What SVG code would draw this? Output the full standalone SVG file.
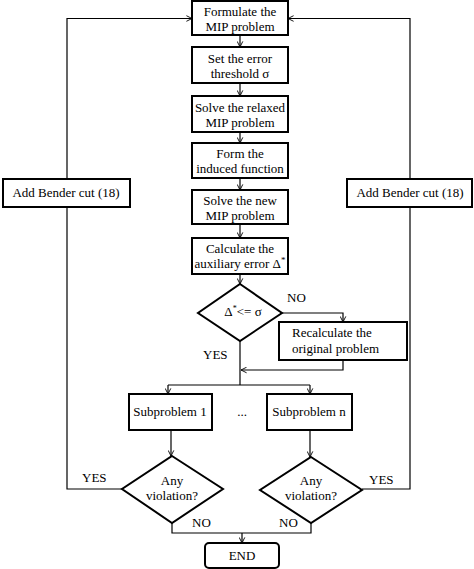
<svg xmlns="http://www.w3.org/2000/svg" width="474" height="569" viewBox="0 0 474 569" font-family="'Liberation Serif', serif">
<defs>
<marker id="arr" viewBox="0 0 10 10" refX="9" refY="5" markerWidth="7" markerHeight="7" orient="auto" markerUnits="userSpaceOnUse">
<path d="M1,1 L9,5 L1,9" fill="none" stroke="#000" stroke-width="1.3"/>
</marker>
<style>
.box{fill:#fff;stroke:#000;stroke-width:2}
.ln{fill:none;stroke:#000;stroke-width:1.2}
.ar{fill:none;stroke:#000;stroke-width:1.2;marker-end:url(#arr)}
text{font-family:'Liberation Serif', serif;font-size:13px;fill:#000}
.c{text-anchor:middle}
</style>
</defs>
<rect width="474" height="569" fill="#fff"/>
<g id="connectors">
<line class="ar" x1="240" y1="35" x2="240" y2="47"/>
<line class="ar" x1="240" y1="83" x2="240" y2="96"/>
<line class="ar" x1="240" y1="132" x2="240" y2="143"/>
<line class="ar" x1="240" y1="178" x2="240" y2="190"/>
<line class="ar" x1="240" y1="224" x2="240" y2="238"/>
<line class="ar" x1="240" y1="274" x2="240" y2="284"/>
<polyline class="ar" points="282,313 343,313 343,322"/>
<polyline class="ar" points="343,360 343,370 241,370"/>
<line class="ln" x1="240" y1="341" x2="240" y2="385"/>
<line class="ln" x1="168" y1="385" x2="310" y2="385"/>
<line class="ar" x1="168" y1="385" x2="168" y2="394"/>
<line class="ar" x1="310" y1="385" x2="310" y2="394"/>
<line class="ar" x1="171" y1="430" x2="171" y2="456"/>
<line class="ar" x1="310" y1="430" x2="310" y2="457"/>
<polyline class="ln" points="172,523 172,533 311,533 311,523"/>
<line class="ar" x1="242" y1="533" x2="242" y2="543"/>
<polyline class="ar" points="122,489 67,489 67,18.5 192,18.5"/>
<polyline class="ar" points="362,489 410,489 410,18.5 288,18.5"/>
</g>
<g id="n1"><rect class="box" x="192" y="1" width="96" height="34"/><text class="c" x="240" y="16">Formulate the</text><text class="c" x="240" y="31">MIP problem</text></g>
<g id="n2"><rect class="box" x="192" y="47" width="96" height="36"/><text class="c" x="240" y="63">Set the error</text><text class="c" x="240" y="78">threshold σ</text></g>
<g id="n3"><rect class="box" x="192" y="96" width="96" height="36"/><text class="c" x="240" y="112">Solve the relaxed</text><text class="c" x="240" y="127">MIP problem</text></g>
<g id="n4"><rect class="box" x="192" y="143" width="96" height="35"/><text class="c" x="240" y="158">Form the</text><text class="c" x="240" y="173">induced function</text></g>
<g id="n5"><rect class="box" x="192" y="190" width="96" height="34"/><text class="c" x="240" y="205">Solve the new</text><text class="c" x="240" y="220">MIP problem</text></g>
<g id="n6"><rect class="box" x="192" y="238" width="96" height="36"/><text class="c" x="240" y="253">Calculate the</text><text class="c" x="240" y="268">auxiliary error Δ<tspan font-size="9" dy="-5">*</tspan></text></g>
<g id="d1"><polygon class="box" points="240,284 282,313 240,341 198,313"/><text class="c" x="243" y="316" font-size="12">Δ<tspan font-size="8" dy="-5">*</tspan><tspan dy="5">&lt;= σ</tspan></text></g>
<g id="recalc"><rect class="box" x="279" y="322" width="128" height="38"/><text x="292" y="337">Recalculate the</text><text x="292" y="353">original problem</text></g>
<g id="bl"><rect class="box" x="3" y="179" width="127" height="28"/><text class="c" x="66" y="197">Add Bender cut (18)</text></g>
<g id="br"><rect class="box" x="347" y="179" width="125" height="28"/><text class="c" x="410" y="197">Add Bender cut (18)</text></g>
<g id="s1"><rect class="box" x="129" y="394" width="83" height="36"/><text class="c" x="170" y="416">Subproblem 1</text></g>
<g id="dots"><text class="c" x="242" y="416">...</text></g>
<g id="sn"><rect class="box" x="267" y="394" width="85" height="36"/><text class="c" x="309" y="416">Subproblem n</text></g>
<g id="v1"><polygon class="box" points="172,456 223,489 172,523 122,489"/><text class="c" x="172" y="485">Any</text><text class="c" x="172" y="500">violation?</text></g>
<g id="v2"><polygon class="box" points="311,457 362,490 311,523 260,490"/><text class="c" x="311" y="485">Any</text><text class="c" x="311" y="500">violation?</text></g>
<g id="end"><rect class="box" x="205" y="543" width="74" height="25" rx="4"/><text class="c" x="242" y="560">END</text></g>
<g id="labels">
<text x="287" y="302">NO</text>
<text x="203" y="359">YES</text>
<text x="82" y="482">YES</text>
<text x="369" y="484">YES</text>
<text x="192" y="527">NO</text>
<text x="279" y="527">NO</text>
</g>
</svg>
